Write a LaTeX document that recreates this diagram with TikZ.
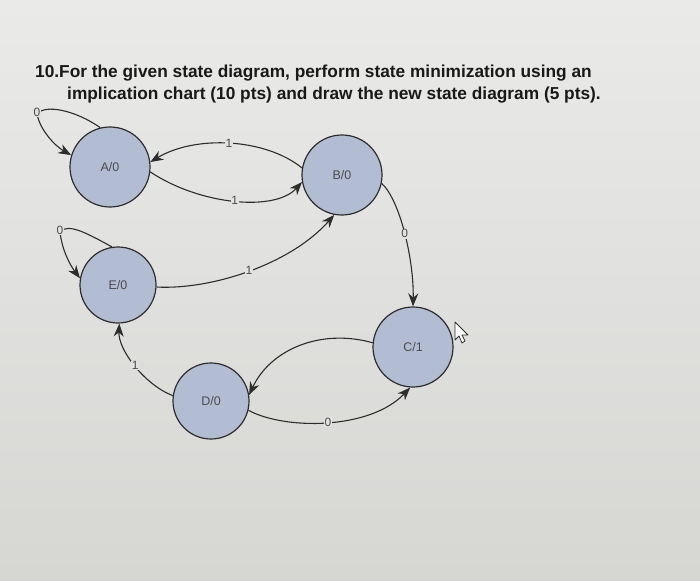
\documentclass[tikz,border=0pt]{standalone}
\usepackage{fontspec}
\setmainfont{Liberation Sans}
\usetikzlibrary{arrows.meta}
\definecolor{bgtop}{RGB}{234,234,233}
\definecolor{bgbot}{RGB}{214,214,211}
\definecolor{bgmid}{RGB}{226,226,224}
\definecolor{statefill}{RGB}{178,189,211}
\definecolor{edgecol}{RGB}{45,45,45}
\definecolor{inkcol}{RGB}{25,25,25}
\tikzset{
  statenode/.style={circle, draw=edgecol, line width=1.2pt, fill=statefill,
    minimum size=80pt, inner sep=0pt, font=\fontsize{12.5}{14}\selectfont, text=black!70},
  smallstate/.style={statenode, minimum size=76pt},
  trans/.style={draw=edgecol, line width=1.1pt, -{Stealth[length=13pt,width=10pt]}},
  elabel/.style={fill=bgmid, inner sep=0.6pt, font=\fontsize{12}{13}\selectfont, text=black!70},
  titletext/.style={anchor=base west, inner sep=0pt, font=\bfseries\fontsize{17.3}{20}\selectfont, text=inkcol}
}
\begin{document}
\begin{tikzpicture}[x=1pt,y=-1pt]
\shade[top color=bgtop, bottom color=bgbot] (0,0) rectangle (700,580);
\useasboundingbox (0,0) rectangle (700,580);

\node[titletext] (t1) at (35,78) {10.For the given state diagram, perform state minimization using an};
\node[titletext] (t2) at (67,100) {implication chart (10 pts) and draw the new state diagram (5 pts).};

\node[statenode] (A) at (110,167) {A/0};
\node[statenode] (B) at (342,175) {B/0};
\node[statenode] (C) at (413,347) {C/1};
\node[smallstate] (D) at (211,401) {D/0};
\node[smallstate] (E) at (118,285) {E/0};

% A self loop
\draw[trans] (A.104) .. controls (75,110) and (45,104) .. (37,114)
  .. controls (40,130) and (55,146) .. (A.163);
\node[elabel] (la) at (37,112) {0};
% B -> A
\draw[trans] (B.170) .. controls (265,138) and (195,135) .. (A.7)
  node[elabel, pos=0.5] (lba) {1};
% A -> B
\draw[trans] (A.-7) .. controls (200,205) and (275,212) .. (B.190)
  node[elabel, pos=0.5] (lab) {1};
% B -> C
\draw[trans] (B.-12) .. controls (400,200) and (414,260) .. (C.90)
  node[elabel, pos=0.5] (lbc) {0};
% E self loop
\draw[trans] (E.99) .. controls (90,235) and (68,222) .. (60,232)
  .. controls (62,250) and (70,265) .. (E.170);
\node[elabel] (le) at (60,230) {0};
% E -> B
\draw[trans] (E.-3) .. controls (210,290) and (290,265) .. (B.259)
  node[elabel, pos=0.5] (leb) {1};
% D -> E
\draw[trans] (D.172) .. controls (145,385) and (118,350) .. (E.272)
  node[elabel, pos=0.5] (lde) {1};
% C -> D
\draw[trans] (C.174) .. controls (320,328) and (270,350) .. (D.9);
% D -> C
\draw[trans] (D.-14) .. controls (285,430) and (370,430) .. (C.266)
  node[elabel, pos=0.5] (ldc) {0};

% mouse pointer
\draw[edgecol, line width=0.8pt, fill=white, line join=round]
  (455,322) -- (455,340) -- (459,336) -- (462,343) -- (465,341) -- (462,335) -- (468,335) -- cycle;
\end{tikzpicture}
\end{document}
